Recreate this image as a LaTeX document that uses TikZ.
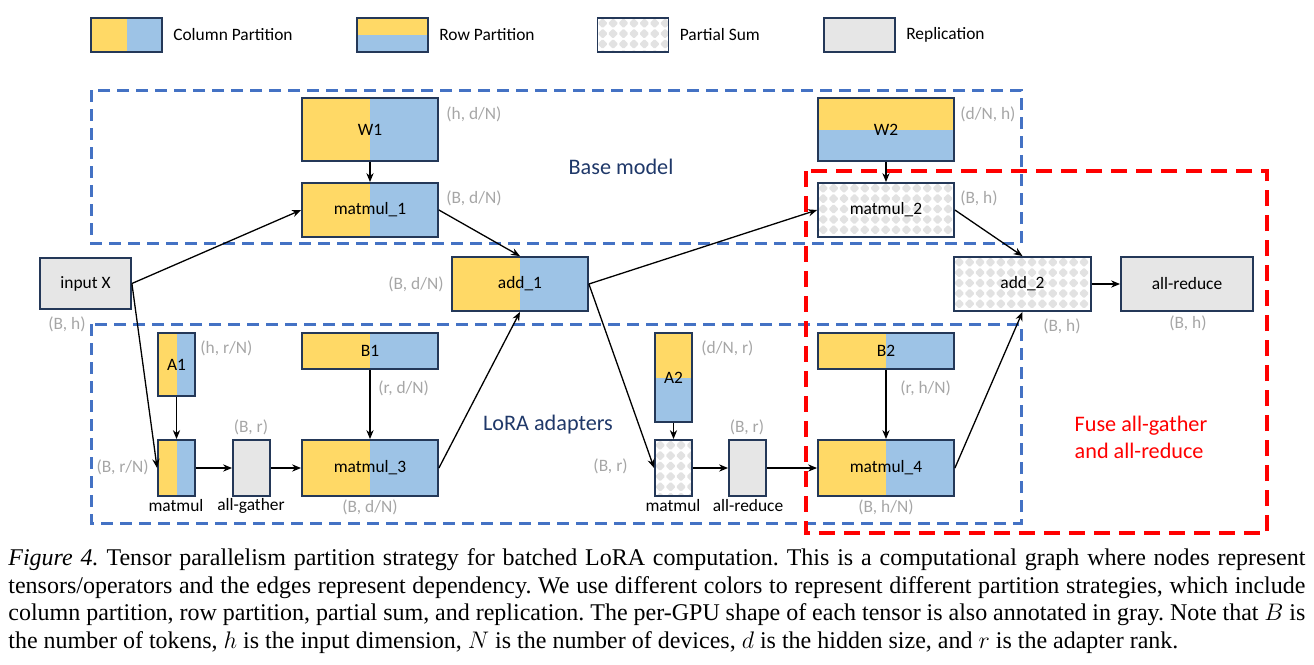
\documentclass[tikz,border=0pt]{standalone}
\usepackage{fontspec}
\setmainfont{Liberation Serif}
\newfontfamily\calibri{Carlito}
\usetikzlibrary{arrows.meta,positioning}
\definecolor{yel}{HTML}{FFD966}
\definecolor{blu}{HTML}{9DC3E6}
\definecolor{repgray}{HTML}{E6E6E6}
\definecolor{edge}{HTML}{243858}
\definecolor{dimgray}{HTML}{A6A6A6}
\definecolor{dotgray}{HTML}{E2E2E2}
\definecolor{frameblue}{HTML}{4472C4}
\definecolor{titleblue}{HTML}{1F3869}
\definecolor{fusered}{HTML}{FF0000}
\begin{document}
\begin{tikzpicture}[x=0.5pt,y=-0.5pt,
	every node/.style={font=\calibri\fontsize{8.7}{10.4}\selectfont,inner sep=1pt},
	box/.style={draw=edge,line width=0.9pt,minimum width=68pt,minimum height=27pt,inner sep=0pt},
	smallbox/.style={box,minimum width=18.5pt,minimum height=28pt},
	legbox/.style={box,minimum width=35.5pt,minimum height=17pt},
	colpart/.style={path picture={
		\fill[yel] (path picture bounding box.south west) rectangle (path picture bounding box.north);
		\fill[blu] (path picture bounding box.south) rectangle (path picture bounding box.north east);}},
	rowpart/.style={path picture={
		\fill[yel] (path picture bounding box.north west) rectangle (path picture bounding box.east);
		\fill[blu] (path picture bounding box.west) rectangle (path picture bounding box.south east);}},
	psum/.style={fill=white,path picture={
		\foreach \i in {0,...,14} \foreach \j in {0,...,6}
		\fill[dotgray,rounded corners=0.6pt] ([shift={(\i*5.2pt+2.6pt,-\j*5.2pt-2.6pt)}]path picture bounding box.north west)
			+(0,2.5pt) -- +(2.5pt,0) -- +(0,-2.5pt) -- +(-2.5pt,0) -- cycle;}},
	rep/.style={fill=repgray},
	dim/.style={text=dimgray},
	title/.style={text=titleblue,font=\calibri\fontsize{11.1}{13.5}\selectfont},
	frame/.style={draw=frameblue,line width=1.5pt,dash pattern=on 6pt off 3.5pt},
	fuse/.style={draw=fusered,line width=2pt,dash pattern=on 8pt off 4.5pt},
	link/.style={-{Stealth[length=4.5pt,width=3.6pt]},line width=0.65pt}]
\useasboundingbox (0,0) rectangle (1314,665);

% legend
\node[legbox,colpart] (legcol) at (126.5,35) {};
\node[right=4pt of legcol] (legcoltxt) {Column Partition};
\node[legbox,rowpart] (legrow) at (392.5,35) {};
\node[right=4pt of legrow] (legrowtxt) {Row Partition};
\node[legbox,psum] (legsum) at (633,35) {};
\node[right=4pt of legsum] (legsumtxt) {Partial Sum};
\node[legbox,rep] (legrep) at (859.5,35) {};
\node[right=4pt of legrep] (legreptxt) {Replication};

% frames
\draw[frame] (91,90) rectangle (1021,243);
\draw[frame] (91,324) rectangle (1021,523);
\draw[fuse] (806,171) rectangle (1267,533);
\node[title] (basetxt) at (621,167) {Base model};
\node[title] (loratxt) at (548,425) {LoRA adapters};
\node[title,text=fusered,align=left] (fusetxt) at (1141,437) {Fuse all-gather\\and all-reduce};

% base model
\node[box,colpart,minimum height=31.5pt] (w1) at (370,129.5) {W1};
\node[box,colpart] (mm1) at (370,210) {matmul\_1};
\node[box,rowpart,minimum height=31.5pt] (w2) at (886,129.5) {W2};
\node[box,psum] (mm2) at (886,210) {matmul\_2};
\node[box,rep,minimum width=45.5pt,minimum height=25.5pt] (inx) at (85.5,283.5) {input X};
\node[box,colpart] (add1) at (520,284) {add\_1};
\node[box,psum,minimum width=68.5pt] (add2) at (1022.5,284) {add\_2};
\node[box,rep,minimum width=66pt] (allred) at (1187,284) {all-reduce};

% lora adapters
\node[smallbox,colpart,minimum height=31.5pt] (a1) at (176.5,364.5) {A1};
\node[smallbox,colpart] (mma) at (176.5,468) {};
\node[smallbox,rep] (allgat) at (251.5,468) {};
\node[box,colpart,minimum height=18pt] (b1) at (370,351) {B1};
\node[box,colpart,minimum height=28pt] (mm3) at (370,468) {matmul\_3};
\node[smallbox,rowpart,minimum height=44.5pt] (a2) at (673.5,377.5) {A2};
\node[smallbox,psum] (mmb) at (673.5,468) {};
\node[smallbox,rep] (allredb) at (747.5,468) {};
\node[box,colpart,minimum height=18pt] (b2) at (886,351) {B2};
\node[box,colpart,minimum height=28pt] (mm4) at (886,468) {matmul\_4};

% shapes
\node[dim,anchor=west] (w1dim) at (444,114) {(h, d/N)};
\node[dim,anchor=west] (mm1dim) at (444,198) {(B, d/N)};
\node[dim,anchor=west] (w2dim) at (958,114) {(d/N, h)};
\node[dim,anchor=west] (mm2dim) at (958,198) {(B, h)};
\node[dim] (inxdim) at (67,324) {(B, h)};
\node[dim,anchor=east] (add1dim) at (446,284) {(B, d/N)};
\node[dim] (add2dim) at (1062,326) {(B, h)};
\node[dim] (allreddim) at (1188,323) {(B, h)};
\node[dim,anchor=west] (a1dim) at (198,348) {(h, r/N)};
\node[dim,anchor=east] (mmadim) at (151,467) {(B, r/N)};
\node[dim] (allgatdim) at (251,427) {(B, r)};
\node[dim,anchor=west] (b1dim) at (376,388) {(r, d/N)};
\node[dim] (mm3dim) at (370,507) {(B, d/N)};
\node[dim,anchor=west] (a2dim) at (699,348) {(d/N, r)};
\node[dim,anchor=east] (mmbdim) at (630,466) {(B, r)};
\node[dim] (allredbdim) at (747,427) {(B, r)};
\node[dim,anchor=west] (b2dim) at (898,388) {(r, h/N)};
\node[dim] (mm4dim) at (886,507) {(B, h/N)};
\node (mmatxt) at (176,506) {matmul};
\node (allgattxt) at (251,506) {all-gather};
\node (mmbtxt) at (673,506) {matmul};
\node (allredbtxt) at (748,506) {all-reduce};

% edges
\draw[link] (w1) -- (mm1);
\draw[link] (inx.east) -- (mm1.west);
\draw[link] (inx.east) -- (mma.west);
\draw[link] (mm1.east) -- (add1.north);
\draw[link] (a1) -- (mma);
\draw[link] (mma) -- (allgat);
\draw[link] (allgat) -- (mm3);
\draw[link] (b1) -- (mm3);
\draw[link] (mm3.east) -- (add1.south);
\draw[link] (add1.east) -- (mm2.west);
\draw[link] (add1.east) -- (mmb.west);
\draw[link] (w2) -- (mm2);
\draw[link] (mm2.east) -- (add2.north);
\draw[link] (a2) -- (mmb);
\draw[link] (mmb) -- (allredb);
\draw[link] (allredb) -- (mm4);
\draw[link] (b2) -- (mm4);
\draw[link] (mm4.east) -- (add2.south);
\draw[link] (add2) -- (allred);

% caption
\node[anchor=north west,inner sep=0pt,text width=648.5pt,align=justify,
	font=\frenchspacing\fontsize{12}{13.85}\selectfont] (caption) at (8,548)
	{\textit{Figure 4.} Tensor parallelism partition strategy for batched LoRA computation. This is a computational graph where nodes represent\linebreak
	tensors/operators and the edges represent dependency. We use different colors to represent different partition strategies, which include\linebreak
	column partition, row partition, partial sum, and replication. The per-GPU shape of each tensor is also annotated in gray. Note that $B$ is\linebreak
	the number of tokens, $h$ is the input dimension, $N$ is the number of devices, $d$ is the hidden size, and $r$ is the adapter rank.};
\end{tikzpicture}
\end{document}
